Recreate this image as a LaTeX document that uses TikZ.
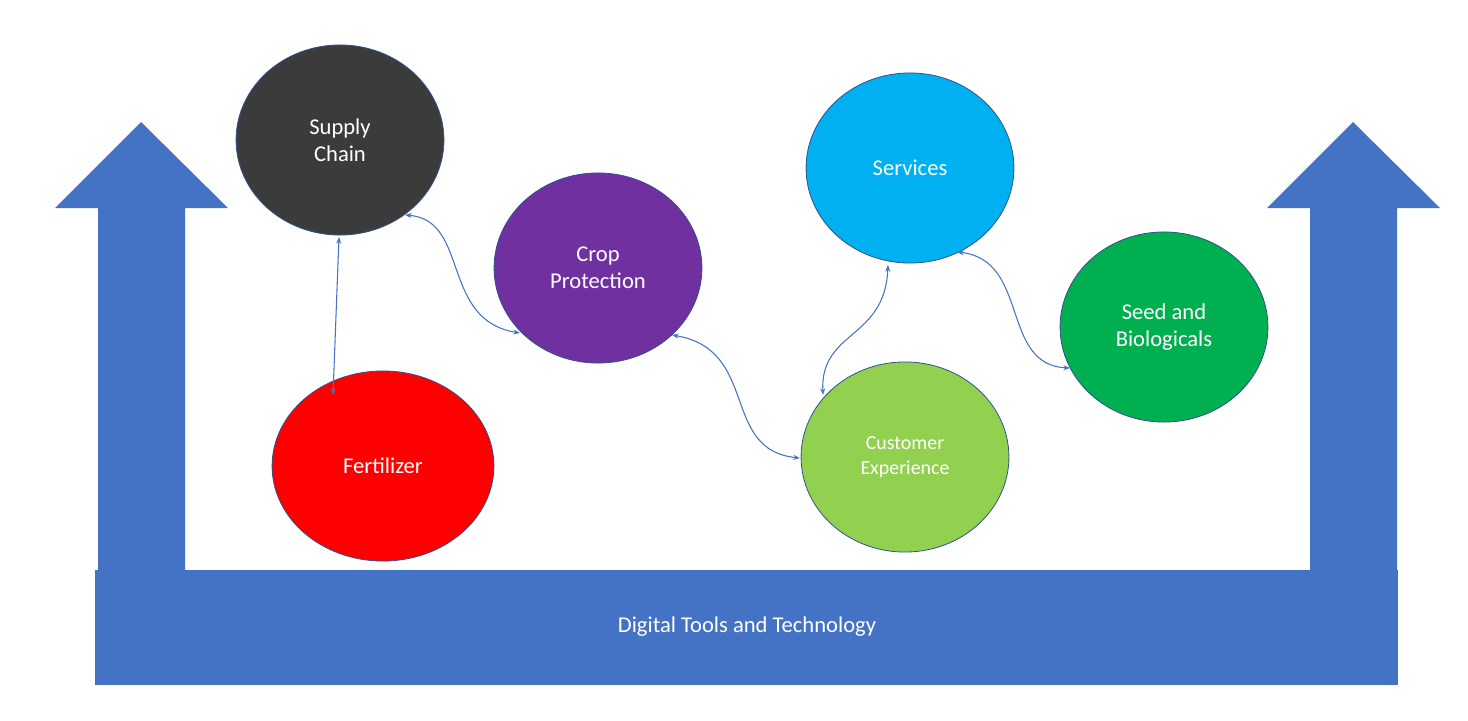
\documentclass[tikz,border=0pt]{standalone}
\usepackage{fontspec}
\setmainfont{Carlito}
\usetikzlibrary{shapes.geometric,arrows.meta}
\definecolor{bl}{HTML}{4472C4}
\definecolor{edge}{HTML}{2F528F}
\definecolor{cSC}{HTML}{3B3B3B}
\definecolor{cCP}{HTML}{7030A0}
\definecolor{cFe}{HTML}{FF0000}
\definecolor{cSv}{HTML}{00B0F0}
\definecolor{cSB}{HTML}{00B050}
\definecolor{cCE}{HTML}{92D050}
\begin{document}
\begin{tikzpicture}[x=0.0264583cm,y=-0.0264583cm,
  circ/.style={ellipse,draw=edge,line width=0.6pt,minimum width=5.5cm,minimum height=5.03cm,inner sep=0pt,text=white,font=\fontsize{17}{20}\selectfont,align=center},
  con/.style={draw=bl,line width=0.8pt,{Stealth[length=5pt]}-{Stealth[length=5pt]}}]
\useasboundingbox (0,0) rectangle (1468,720);
\fill[bl] (95,570) rectangle (1398,685);
\node[text=white,font=\fontsize{17}{20}\selectfont] (bar) at (747,627) {Digital Tools and Technology};
\fill[bl] (98,570) -- (98,208) -- (55,208) -- (141,122) -- (228,208) -- (185,208) -- (185,570) -- cycle;
\fill[bl] (1310,570) -- (1310,208) -- (1267,208) -- (1353,122) -- (1440,208) -- (1397,208) -- (1397,570) -- cycle;
\node[circ,fill=cSC] (sc) at (340,140) {Supply\\Chain};
\node[circ,fill=cCP] (cp) at (598,268) {Crop\\Protection};
\node[circ,fill=cFe,minimum width=5.87cm] (fe) at (383,466) {Fertilizer};
\node[circ,fill=cSv] (sv) at (910,168) {Services};
\node[circ,fill=cSB] (sb) at (1164,327) {Seed and\\Biologicals};
\node[circ,fill=cCE,text=white,font=\fontsize{15}{19}\selectfont] (ce) at (905,457) {Customer\\Experience};
\coordinate (a1) at (333,395); \coordinate (a2) at (339,237);
\draw[con] (a1) -- (a2);
\coordinate (b1) at (405,215); \coordinate (b2) at (520,333);
\draw[con] (b1) .. controls (470,220) and (440,320) .. (b2);
\coordinate (c1) at (672,335); \coordinate (c2) at (800,458);
\draw[con] (c1) .. controls (760,350) and (720,450) .. (c2);
\coordinate (d1) at (823,395); \coordinate (d2) at (888,265);
\draw[con] (d1) .. controls (820,330) and (885,340) .. (d2);
\coordinate (e1) at (957,252); \coordinate (e2) at (1070,368);
\draw[con] (e1) .. controls (1030,260) and (1000,365) .. (e2);
\end{tikzpicture}
\end{document}
